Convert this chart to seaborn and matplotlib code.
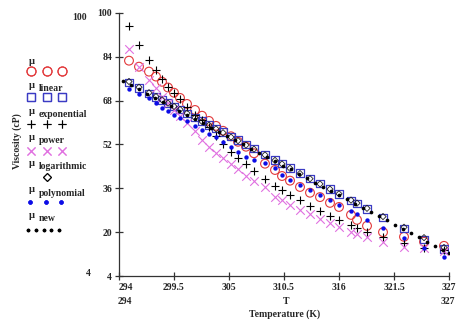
import matplotlib
matplotlib.use("Agg")
import matplotlib.pyplot as plt
import seaborn as sns
import pandas as pd
from matplotlib.lines import Line2D
from matplotlib.markers import MarkerStyle
from matplotlib.legend_handler import HandlerLine2D

# ---------------- data ----------------
temperature = [295.0, 296.0, 297.0, 297.7, 298.3, 298.9, 299.5, 300.1, 300.8, 301.6,
               302.3, 303.0, 303.7, 304.4, 305.2, 305.9, 306.7, 307.5, 308.6, 309.6,
               310.3, 311.1, 312.1, 313.1, 314.1, 315.1, 316.0, 317.2, 317.8, 318.8,
               320.4, 322.5, 324.5, 326.5]
mu_exp = [82.6, 80.4, 78.6, 76.8, 74.9, 72.8, 70.9, 69.0, 66.8, 64.6,
          62.5, 60.6, 58.8, 57.0, 55.0, 53.0, 51.2, 48.8, 45.0, 42.7,
          40.5, 38.8, 36.5, 34.4, 32.8, 30.7, 29.2, 26.3, 24.5, 22.3,
          20.0, 18.3, 16.5, 15.0]
mu_linear = [74.6, 72.7, 70.7, 69.4, 68.2, 67.1, 65.9, 64.8, 63.4, 61.9,
             60.5, 59.2, 57.8, 56.5, 54.9, 53.6, 52.0, 50.5, 48.4, 46.4,
             45.1, 43.5, 41.6, 39.6, 37.7, 35.7, 34.0, 31.6, 30.4, 28.5,
             25.3, 21.3, 17.3, 13.8]
mu_exponential = [95.3, 88.3, 82.8, 79.2, 76.0, 72.9, 70.9, 68.5, 65.8, 62.8,
                  60.8, 58.3, 55.0, 52.0, 49.3, 47.0, 44.8, 42.5, 39.3, 37.0,
                  35.4, 33.4, 31.8, 29.5, 27.7, 25.9, 24.5, 22.6, 21.4, 20.2,
                  18.1, 15.9, 14.2, 13.5]
mu_power = [86.7, 80.4, 75.5, 72.5, 69.5, 67.0, 64.5, 62.5, 60.0, 57.0,
            53.8, 51.0, 48.8, 47.0, 44.8, 42.9, 40.6, 38.5, 36.5, 33.0,
            31.8, 29.9, 28.1, 26.5, 24.8, 23.3, 22.0, 20.2, 19.3, 18.1,
            16.3, 14.7, 14.1, 13.0]
mu_logarithmic = [75.0, 72.9, 70.9, 69.5, 68.3, 67.1, 65.9, 64.8, 63.4, 61.8,
                  60.4, 59.1, 57.7, 56.3, 54.7, 53.4, 51.8, 50.3, 48.2, 46.2,
                  44.9, 43.3, 41.4, 39.5, 37.6, 35.7, 34.0, 31.7, 30.6, 28.7,
                  25.7, 21.8, 18.0, 14.4]
mu_polynomial = [72.3, 70.6, 68.8, 67.0, 65.5, 64.2, 62.9, 61.8, 60.4, 58.6,
                 57.4, 56.0, 54.6, 52.8, 51.0, 49.2, 47.6, 46.3, 45.2, 43.5,
                 41.0, 39.0, 37.2, 35.5, 33.6, 31.8, 30.0, 27.7, 26.6, 24.6,
                 21.5, 17.9, 14.2, 10.9]
temperature_new = [294.4, 295.2, 296.0, 296.8, 297.6, 298.4, 299.2, 300.0, 300.8, 301.6,
                   302.4, 303.2, 304.0, 304.8, 305.6, 306.4, 307.2, 308.0, 308.8, 309.6,
                   310.4, 311.2, 312.0, 312.8, 313.6, 314.4, 315.2, 316.0, 316.8, 317.6,
                   318.4, 319.2, 320.0, 320.8, 321.6, 322.4, 323.2, 324.0, 324.8, 325.6,
                   326.4, 327.0]
mu_new = [75.2, 73.7, 72.1, 70.6, 69.0, 67.5, 65.9, 64.4, 62.8, 61.3,
          59.8, 58.2, 56.7, 55.1, 53.6, 52.0, 50.5, 49.0, 47.4, 45.9,
          44.3, 42.9, 41.2, 39.7, 38.1, 36.6, 35.1, 33.5, 32.0, 30.4,
          28.9, 27.3, 25.8, 24.3, 22.7, 21.2, 19.6, 18.1, 16.5, 15.0,
          13.4, 12.3]

x_ticks = [294, 299.5, 305, 310.5, 316, 321.5, 327]
y_ticks = [4, 20, 36, 52, 68, 84, 100]
legend_names = ["", "linear", "exponential", "power", "logarithmic", "polynomial", "new"]

# ---------------- style ----------------
sns.set_style("ticks")
plt.rcParams["font.family"] = ["Liberation Serif", "DejaVu Serif"]
plt.rcParams["font.weight"] = "bold"
plt.rcParams["font.size"] = 7

W, H = 474, 322
fig = plt.figure(figsize=(W / 100, H / 100), dpi=100)
ax = fig.add_axes([119 / W, 1 - 276 / H, 330 / W, 263 / H])

df = pd.DataFrame({"T": temperature, "exp": mu_exp, "lin": mu_linear, "expo": mu_exponential,
                   "pow": mu_power, "log": mu_logarithmic, "poly": mu_polynomial})
df_new = pd.DataFrame({"T": temperature_new, "new": mu_new})

RED = "#e2383a"
SQB = "#3b3bc4"
MAG = "#e070e0"
BLU = "#0c0ce6"

open_circle = MarkerStyle("o", fillstyle="none")
open_square = MarkerStyle("s", fillstyle="none")
open_diamond = MarkerStyle("D", fillstyle="none")

sns.scatterplot(data=df, x="T", y="exp", marker=open_circle, s=40, color=RED, linewidth=0.8, ax=ax)
sns.scatterplot(data=df, x="T", y="lin", marker=open_square, s=29, color=SQB, linewidth=0.9, ax=ax)
sns.scatterplot(data=df, x="T", y="expo", marker="+", s=36, color="black", linewidth=0.8, ax=ax)
sns.scatterplot(data=df, x="T", y="pow", marker="x", s=38, color=MAG, linewidth=0.8, ax=ax)
sns.scatterplot(data=df, x="T", y="log", marker=open_diamond, s=10, color="#222222", linewidth=0.6, ax=ax)
sns.scatterplot(data=df, x="T", y="poly", marker="o", s=10, color=BLU, edgecolor=BLU, linewidth=0, ax=ax)
sns.scatterplot(data=df_new, x="T", y="new", marker="o", s=7, color="black", edgecolor="black", linewidth=0, ax=ax)

ax.set_xlim(x_ticks[0], x_ticks[-1])
ax.set_ylim(y_ticks[0], y_ticks[-1])
ax.set_xticks(x_ticks)
ax.set_xticklabels(["294", "299.5", "305", "310.5", "316", "321.5", "327"])
ax.set_yticks(y_ticks)
ax.set_yticklabels([str(v) for v in y_ticks])
ax.set_xlabel("")
ax.set_ylabel("")
for s in ["top", "right"]:
    ax.spines[s].set_visible(False)
for s in ["left", "bottom"]:
    ax.spines[s].set_color("#333333")
    ax.spines[s].set_linewidth(0.9)
ax.tick_params(direction="inout", length=6, width=0.9, color="#333333",
               labelsize=7, pad=2)
for lab in ax.get_xticklabels() + ax.get_yticklabels():
    lab.set_fontweight("bold")
ax.get_xticklabels()[0].set_ha("left")

# ---------------- surrounding texts ----------------
def ftext(x, y, s, **kw):
    fig.text(x / W, 1 - y / H, s, fontweight="bold", **kw)

ftext(80, 18, "100", ha="center", va="center", fontsize=7)
ftext(88, 273, "4", ha="center", va="center", fontsize=7)
ftext(125, 302, "294", ha="center", va="center", fontsize=7)
ftext(286, 302, "T", ha="center", va="center", fontsize=7)
ftext(448, 302, "327", ha="center", va="center", fontsize=7)
ftext(285, 314, "Temperature (K)", ha="center", va="center", fontsize=7)
ftext(17, 141, "Viscosity (cP)", ha="center", va="center", fontsize=7, rotation=90)

# ---------------- legend ----------------
mu_y = [61, 85, 111, 137, 163, 190, 215]
for name, yy in zip(legend_names, mu_y):
    ftext(31.5, yy, "\u03bc", ha="center", va="center", fontsize=7.5)
    if name:
        ftext(38.5, yy + 3.3, name, ha="left", va="center", fontsize=7)

entries = [
    (Line2D([], [], ls="", marker="o", mfc="none", mec=RED, ms=6.5, mew=0.8), 3, 28.1, 71.7),
    (Line2D([], [], ls="", marker="s", mfc="none", mec=SQB, ms=5.5, mew=0.9), 3, 28.1, 98.3),
    (Line2D([], [], ls="", marker="+", color="black", ms=6.2, mew=0.8), 3, 28.1, 125.3),
    (Line2D([], [], ls="", marker="x", color=MAG, ms=6.2, mew=0.8), 3, 28.1, 152.3),
    (Line2D([], [], ls="", marker="D", mfc="none", mec="black", ms=3.8, mew=0.7), 1, 28.1, 178.3),
    (Line2D([], [], ls="", marker="o", color=BLU, ms=3.2, mew=0), 3, 27.2, 203.3),
    (Line2D([], [], ls="", marker="o", color="black", ms=2.6, mew=0), 5, 25.1, 230.7),
]
for handle, npts, lx, ly in entries:
    leg = fig.legend(handles=[handle], labels=[""], loc="center left",
                     bbox_to_anchor=(lx / W, 1 - ly / H), frameon=False,
                     handler_map={handle: HandlerLine2D(numpoints=npts)},
                     handlelength=3.79, handletextpad=0, borderpad=0,
                     borderaxespad=0, fontsize=7)
    fig.add_artist(leg)

fig.savefig("out.png", dpi=100)
